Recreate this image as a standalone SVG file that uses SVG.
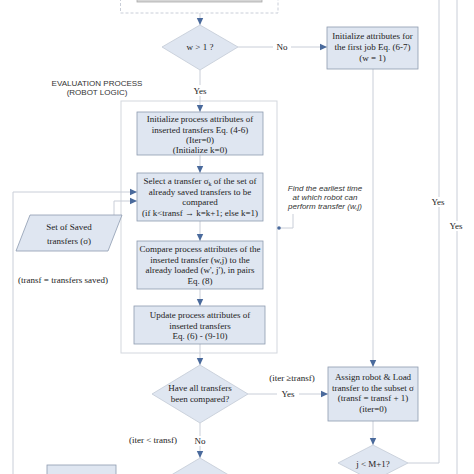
<svg xmlns="http://www.w3.org/2000/svg" width="474" height="474" viewBox="0 0 474 474">
<defs>
<marker id="ah" markerWidth="8" markerHeight="8" refX="7" refY="4" orient="auto" markerUnits="userSpaceOnUse">
<path d="M0,0.8 L7,4 L0,7.2 Z" fill="#4a6a9c"/>
</marker>
<style>
.box{fill:#dfe6f1;stroke:#8d9bb0;stroke-width:0.8}
.dia{fill:#dfe6f1;stroke:#c3cad6;stroke-width:0.8}
.ln{fill:none;stroke:#c9ced8;stroke-width:1}
.t{font-family:"Liberation Serif",serif;font-size:9px;fill:#222;text-anchor:middle}
.s{font-family:"Liberation Sans",sans-serif;font-size:8px;fill:#333;text-anchor:middle}
.i{font-family:"Liberation Sans",sans-serif;font-size:8px;font-style:italic;fill:#333;text-anchor:middle}
.bg{fill:#fff}
</style>
</defs>
<rect width="474" height="474" fill="#fff"/>

<g id="frames">
<rect x="120.5" y="-10" width="157.5" height="23" fill="none" stroke="#c9ced8" stroke-dasharray="3,2"/>
<rect x="121" y="101" width="156" height="252" fill="none" stroke="#d3d7de" stroke-width="1"/>
<text class="s" x="97" y="86">EVALUATION PROCESS</text>
<text class="s" x="97" y="95">(ROBOT LOGIC)</text>
</g>

<g id="connectors">
<path class="ln" d="M200,13 V25" marker-end="url(#ah)"/>
<path class="ln" d="M238,47 H327" marker-end="url(#ah)"/>
<path class="ln" d="M200,70 V112" marker-end="url(#ah)"/>
<path class="ln" d="M200,155 V173" marker-end="url(#ah)"/>
<path class="ln" d="M200,221 V241" marker-end="url(#ah)"/>
<path class="ln" d="M200,289 V306" marker-end="url(#ah)"/>
<path class="ln" d="M200,344 V365" marker-end="url(#ah)"/>
<path class="ln" d="M248,394 H328" marker-end="url(#ah)"/>
<path class="ln" d="M200,423 V458" marker-end="url(#ah)"/>
<path class="ln" d="M373,69 V367" marker-end="url(#ah)"/>
<path class="ln" d="M373,421 V445" marker-end="url(#ah)"/>
<path class="ln" d="M408,463 H439 V0"/>
<path class="ln" d="M457,474 V0"/>
<path class="ln" d="M13,474 V192 H137" marker-end="url(#ah)"/>
<path class="ln" d="M114,215 V201 H137" marker-end="url(#ah)"/>
<path class="ln" d="M293,214 V228 H279"/>
<circle cx="279" cy="228" r="1.8" fill="#4a6a9c"/>
<rect class="bg" x="273" y="42" width="18" height="11"/>
<text class="t" x="282" y="50">No</text>
<rect class="bg" x="190" y="85" width="20" height="11"/>
<text class="t" x="200" y="94">Yes</text>
<rect class="bg" x="277" y="389" width="22" height="10"/>
<text class="t" x="288" y="397">Yes</text>
<text class="t" x="292" y="381">(iter ≥transf)</text>
<text class="t" x="153" y="443">(iter &lt; transf)</text>
<rect class="bg" x="191" y="436" width="18" height="10"/>
<text class="t" x="200" y="444">No</text>
<rect class="bg" x="429" y="197" width="18" height="10"/>
<text class="t" x="438" y="205">Yes</text>
<rect class="bg" x="447" y="221" width="18" height="10"/>
<text class="t" x="456" y="229">Yes</text>
<text class="i" x="325" y="191">Find the earliest time</text>
<text class="i" x="325" y="200">at which robot can</text>
<text class="i" x="325" y="209">perform transfer (w,j)</text>
<text class="t" x="63" y="283">(transf = transfers saved)</text>
</g>

<g id="top-box"><rect x="137" y="-10" width="125" height="12" fill="#d6d6d6" stroke="#aaa" stroke-width="0.8"/></g>

<g id="w-diamond">
<polygon class="dia" points="200,25 238,47 200,70 162,47"/>
<text class="t" x="200" y="50">w &gt; 1 ?</text>
</g>

<g id="init-first-job">
<rect class="box" x="327" y="27" width="91" height="42"/>
<text class="t" x="372.5" y="39">Initialize attributes for</text>
<text class="t" x="372.5" y="50">the first job Eq. (6-7)</text>
<text class="t" x="372.5" y="61">(w = 1)</text>
</g>

<g id="init-process">
<rect class="box" x="137" y="112" width="126" height="43"/>
<text class="t" x="200" y="122">Initialize process attributes of</text>
<text class="t" x="200" y="132.5">inserted transfers Eq. (4-6)</text>
<text class="t" x="200" y="143">(Iter=0)</text>
<text class="t" x="200" y="153">(Initialize k=0)</text>
</g>

<g id="select-transfer">
<rect class="box" x="137" y="173" width="126" height="48"/>
<text class="t" x="200" y="184">Select a transfer σ<tspan font-size="6" dy="2">k</tspan><tspan dy="-2"> of the set of</tspan></text>
<text class="t" x="200" y="194.5">already saved transfers to be</text>
<text class="t" x="200" y="205">compared</text>
<text class="t" x="200" y="215.5">(if k&lt;transf → k=k+1; else k=1)</text>
</g>

<g id="saved-set">
<polygon class="box" points="30,215 122,215 108,251 16,251"/>
<text class="t" x="69" y="230">Set of Saved</text>
<text class="t" x="69" y="244">transfers (σ)</text>
</g>

<g id="compare">
<rect class="box" x="137" y="241" width="126" height="48"/>
<text class="t" x="200" y="252">Compare process attributes of the</text>
<text class="t" x="200" y="262.5">inserted transfer (w,j) to the</text>
<text class="t" x="200" y="273">already loaded (w', j'), in pairs</text>
<text class="t" x="200" y="283.5">Eq. (8)</text>
</g>

<g id="update">
<rect class="box" x="134" y="306" width="131" height="38"/>
<text class="t" x="200" y="318">Update process attributes of</text>
<text class="t" x="200" y="328.5">inserted transfers</text>
<text class="t" x="200" y="339">Eq. (6) - (9-10)</text>
</g>

<g id="all-compared">
<polygon class="dia" points="200,365 248,394 200,423 152,394"/>
<text class="t" x="200" y="391">Have all transfers</text>
<text class="t" x="200" y="402">been compared?</text>
</g>

<g id="assign">
<rect class="box" x="328" y="367" width="90" height="54"/>
<text class="t" x="373" y="380">Assign robot &amp; Load</text>
<text class="t" x="373" y="391">transfer to the subset σ</text>
<text class="t" x="373" y="401">(transf = transf + 1)</text>
<text class="t" x="373" y="412">(iter=0)</text>
</g>

<g id="j-diamond">
<polygon class="dia" points="373,445 408,463 373,481 338,463"/>
<text class="t" x="373" y="467">j &lt; M+1?</text>
</g>

<g id="bottom-diamond"><polygon class="dia" points="200,458 249,487 200,516 151,487"/></g>
<g id="bottom-box"><rect class="box" x="47" y="465" width="69" height="20"/></g>
</svg>
